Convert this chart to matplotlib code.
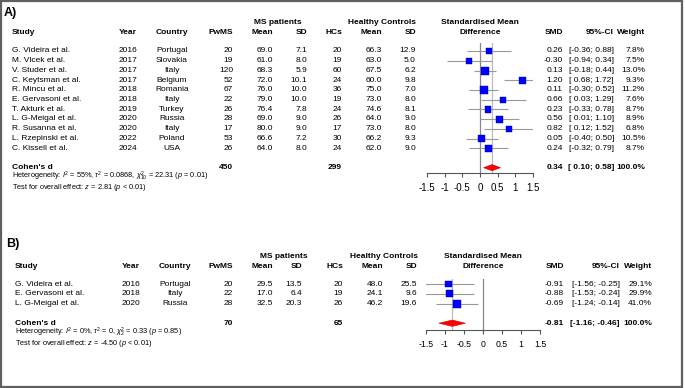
import matplotlib
matplotlib.use("Agg")
import matplotlib.pyplot as plt
from matplotlib.patches import Rectangle, Polygon

plt.rcParams['font.family'] = ['Liberation Sans', 'DejaVu Sans']
plt.rcParams['mathtext.fontset'] = 'custom'
plt.rcParams['mathtext.rm'] = 'Liberation Sans'
plt.rcParams['mathtext.it'] = 'Liberation Sans:italic'
plt.rcParams['mathtext.bf'] = 'Liberation Sans:bold'

# ---------------- Data: panel A ----------------
studies_a = ["G. Videira et al.", "M. Vlcek et al.", "V. Studer et al.", "C. Keytsman et al.",
             "R. Mincu et al.", "E. Gervasoni et al.", "T. Akturk et al.", "L. G-Meigal et al.",
             "R. Susanna et al.", "L. Rzepinski et al.", "C. Kissell et al."]
years_a = [2016, 2017, 2017, 2017, 2018, 2018, 2019, 2020, 2020, 2022, 2024]
countries_a = ["Portugal", "Slovakia", "Italy", "Belgium", "Romania", "Italy", "Turkey",
               "Russia", "Italy", "Poland", "USA"]
pwms_a = [20, 19, 120, 52, 67, 22, 26, 28, 17, 53, 26]
ms_mean_a = [69.0, 61.0, 68.3, 72.0, 76.0, 79.0, 76.4, 69.0, 80.0, 66.6, 64.0]
ms_sd_a = [7.1, 8.0, 5.9, 10.1, 10.0, 10.0, 7.8, 9.0, 9.0, 7.2, 8.0]
hcs_a = [20, 19, 60, 24, 36, 19, 24, 26, 17, 30, 24]
hc_mean_a = [66.3, 63.0, 67.5, 60.0, 75.0, 73.0, 74.6, 64.0, 73.0, 66.2, 62.0]
hc_sd_a = [12.9, 5.0, 6.2, 9.8, 7.0, 8.0, 8.1, 9.0, 8.0, 9.3, 9.0]
smd_a = [0.26, -0.30, 0.13, 1.20, 0.11, 0.66, 0.23, 0.56, 0.82, 0.05, 0.24]
lower_a = [-0.36, -0.94, -0.18, 0.68, -0.30, 0.03, -0.33, 0.01, 0.12, -0.40, -0.32]
upper_a = [0.88, 0.34, 0.44, 1.72, 0.52, 1.29, 0.78, 1.10, 1.52, 0.50, 0.79]
weight_a = [7.8, 7.5, 13.0, 9.3, 11.2, 7.6, 8.7, 8.9, 6.8, 10.5, 8.7]
total_pwms_a, total_hcs_a = 450, 299
pooled_a = (0.34, 0.10, 0.58)
het_a = r"Heterogeneity: $I^2$ = 55%, $\tau^2$ = 0.0868, $\chi^2_{10}$ = 22.31 ($p$ = 0.01)"
test_a = r"Test for overall effect: $z$ = 2.81 ($p$ < 0.01)"

# ---------------- Data: panel B ----------------
studies_b = ["G. Videira et al.", "E. Gervasoni et al.", "L. G-Meigal et al."]
years_b = [2016, 2018, 2020]
countries_b = ["Portugal", "Italy", "Russia"]
pwms_b = [20, 22, 28]
ms_mean_b = [29.5, 17.0, 32.5]
ms_sd_b = [13.5, 6.4, 20.3]
hcs_b = [20, 19, 26]
hc_mean_b = [48.0, 24.1, 46.2]
hc_sd_b = [25.5, 9.6, 19.6]
smd_b = [-0.91, -0.88, -0.69]
lower_b = [-1.56, -1.53, -1.24]
upper_b = [-0.25, -0.24, -0.14]
weight_b = [29.1, 29.9, 41.0]
total_pwms_b, total_hcs_b = 70, 65
pooled_b = (-0.81, -1.16, -0.46)
het_b = r"Heterogeneity: $I^2$ = 0%, $\tau^2$ = 0, $\chi^2_{2}$ = 0.33 ($p$ = 0.85)"
test_b = r"Test for overall effect: $z$ = -4.50 ($p$ < 0.01)"

tick_vals = [-1.5, -1, -0.5, 0, 0.5, 1, 1.5]
tick_labels = ["-1.5", "-1", "-0.5", "0", "0.5", "1", "1.5"]

W, H = 685, 388
fig = plt.figure(figsize=(W / 100, H / 100), dpi=100)
bg = fig.add_axes([0, 0, 1, 1])
bg.set_xlim(0, W)
bg.set_ylim(H, 0)
bg.axis('off')
bg.add_patch(Rectangle((1, 1), 681.5, 385.5, fill=False, edgecolor='#606060', lw=1.6))

FS = 6.0
FS_SMALL = 5.3


def fmt_ci(lo, hi):
    return "[" + (f"{lo:.2f}" if lo < 0 else f" {lo:.2f}") + "; " + f"{hi:.2f}" + "]"


def draw_panel(label, lab_y, cols, y_h1, y_h2, row_y0, dy, sum_row, data, fax_box, tick_fs,
               pooled, het, test, totals):
    (studies, years, countries, pwms, msm, mss, hcs, hcm, hcsd, smd, lo, hi, wt) = data
    c = cols
    bg.text(c['label'], lab_y, label, fontsize=9, fontweight='bold', va='center', ha='left')
    # header row 1
    bg.text(c['msp'], y_h1, "MS patients", fontsize=FS, fontweight='bold', ha='center', va='center')
    bg.text(c['hcp'], y_h1, "Healthy Controls", fontsize=FS, fontweight='bold', ha='center', va='center')
    bg.text(c['diff'], y_h1, "Standardised Mean", fontsize=FS, fontweight='bold', ha='center', va='center')
    # header row 2
    hdr = [("Study", c['study'], 'left'), ("Year", c['year'], 'right'), ("Country", c['country'], 'center'),
           ("PwMS", c['pwms'], 'right'), ("Mean", c['msm'], 'right'), ("SD", c['mss'], 'right'),
           ("HCs", c['hcs'], 'right'), ("Mean", c['hcm'], 'right'), ("SD", c['hcsd'], 'right'),
           ("Difference", c['diff'], 'center'), ("SMD", c['smd'], 'right'),
           ("95%-CI", c['ci'], 'right'), ("Weight", c['wt'], 'right')]
    for t, x, ha in hdr:
        bg.text(x, y_h2, t, fontsize=FS, fontweight='bold', ha=ha, va='center')
    for i in range(len(studies)):
        y = row_y0 + i * dy
        vals = [(studies[i], c['study'], 'left'), (str(years[i]), c['year'], 'right'),
                (countries[i], c['country'], 'center'), (str(pwms[i]), c['pwms'], 'right'),
                (f"{msm[i]:.1f}", c['msm'], 'right'), (f"{mss[i]:.1f}", c['mss'], 'right'),
                (str(hcs[i]), c['hcs'], 'right'), (f"{hcm[i]:.1f}", c['hcm'], 'right'),
                (f"{hcsd[i]:.1f}", c['hcsd'], 'right'), (f"{smd[i]:.2f}", c['smd'], 'right'),
                (fmt_ci(lo[i], hi[i]), c['ci'], 'right'), (f"{wt[i]:.1f}%", c['wt'], 'right')]
        for t, x, ha in vals:
            bg.text(x, y, t, fontsize=FS, ha=ha, va='center')
    ys = row_y0 + sum_row * dy
    bg.text(c['study'], ys, "Cohen's d", fontsize=FS, fontweight='bold', ha='left', va='center')
    bg.text(c['pwms'], ys, str(totals[0]), fontsize=FS, fontweight='bold', ha='right', va='center')
    bg.text(c['hcs'], ys, str(totals[1]), fontsize=FS, fontweight='bold', ha='right', va='center')
    bg.text(c['smd'], ys, f"{pooled[0]:.2f}", fontsize=FS, fontweight='bold', ha='right', va='center')
    bg.text(c['ci'], ys, fmt_ci(pooled[1], pooled[2]), fontsize=FS, fontweight='bold', ha='right', va='center')
    bg.text(c['wt'], ys, "100.0%", fontsize=FS, fontweight='bold', ha='right', va='center')
    bg.text(c['study'], ys + dy * 0.92, het, fontsize=FS_SMALL, ha='left', va='center')
    bg.text(c['study'], ys + dy * 2.05, test, fontsize=FS_SMALL, ha='left', va='center')

    # forest axes
    left, right, top, bottom, ytop, ybot = fax_box
    ax = fig.add_axes([left / W, 1 - bottom / H, (right - left) / W, (bottom - top) / H])
    ax.set_xlim(-1.5, 1.5)
    ax.set_ylim(ybot, ytop)
    ax.patch.set_alpha(0)
    for s in ['top', 'left', 'right']:
        ax.spines[s].set_visible(False)
    ax.spines['bottom'].set_color('#555555')
    ax.spines['bottom'].set_linewidth(0.8)
    ax.set_yticks([])
    ax.set_xticks(tick_vals)
    ax.set_xticklabels(tick_labels)
    ax.tick_params(axis='x', direction='out', length=3, width=0.8, color='#555555',
                   labelsize=tick_fs, pad=4)
    ax.axvline(0, color='#888888', lw=0.9, zorder=1)
    ax.axvline(pooled[0], color='#bbbbbb', lw=0.9, zorder=1)
    rows = list(range(len(smd)))
    ax.hlines(rows, lo, hi, color='#999999', lw=0.8, zorder=2)
    wmax = max(wt)
    ax.scatter(smd, rows, s=[34 * w / wmax for w in wt], marker='s', color='#0000ff',
               edgecolors='#00008b', linewidths=0.3, zorder=3)
    dh = 0.32
    ax.add_patch(Polygon([(pooled[1], sum_row), (pooled[0], sum_row - dh), (pooled[2], sum_row),
                          (pooled[0], sum_row + dh)], closed=True, facecolor='#ff0000',
                         edgecolor='#cc0000', lw=0.4, zorder=3))
    return ax


cols_a = dict(label=4, study=12, year=137, country=172, pwms=233, msm=273, mss=307, hcs=342,
              hcm=382, hcsd=416, diff=480, smd=563, ci=614, wt=645, msp=278, hcp=382)
data_a = (studies_a, years_a, countries_a, pwms_a, ms_mean_a, ms_sd_a, hcs_a, hc_mean_a,
          hc_sd_a, smd_a, lower_a, upper_a, weight_a)
draw_panel("A)", 13, cols_a, 22, 32, 51, 9.7, 12, data_a,
           (427, 533, 42.5, 173, -0.9, 12.55), 7, pooled_a, het_a, test_a,
           (total_pwms_a, total_hcs_a))

cols_b = dict(label=6, study=15, year=140, country=175, pwms=233, msm=273, mss=302, hcs=343,
              hcm=383, hcsd=417, diff=483, smd=564, ci=620, wt=652, msp=284, hcp=384)
data_b = (studies_b, years_b, countries_b, pwms_b, ms_mean_b, ms_sd_b, hcs_b, hc_mean_b,
          hc_sd_b, smd_b, lower_b, upper_b, weight_b)
draw_panel("B)", 244, cols_b, 257, 266, 284, 9.8, 4, data_b,
           (426, 540, 279, 330, -0.5, 4.69), 6.3, pooled_b, het_b, test_b,
           (total_pwms_b, total_hcs_b))

fig.savefig("out.png", dpi=100)
